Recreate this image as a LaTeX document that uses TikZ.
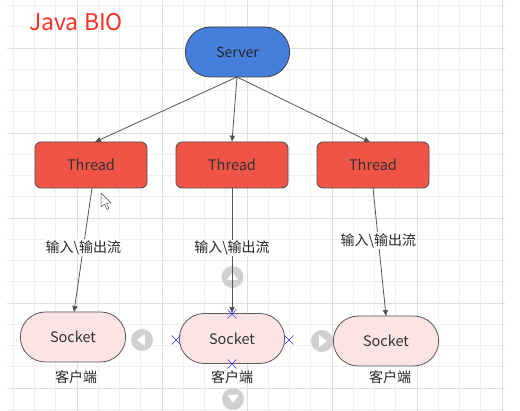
\documentclass[tikz,border=0pt]{standalone}
\usepackage{fontspec}
\setmainfont{Noto Sans CJK SC}
\usetikzlibrary{arrows.meta,shapes.misc}
\definecolor{serverblue}{RGB}{70,126,220}
\definecolor{threadred}{RGB}{240,84,70}
\definecolor{socketpink}{RGB}{253,228,228}
\definecolor{edgegray}{RGB}{85,85,85}
\definecolor{gridminor}{RGB}{240,240,240}
\definecolor{gridmajor}{RGB}{222,222,222}
\definecolor{navgray}{RGB}{208,208,208}
\definecolor{titlered}{RGB}{250,50,40}
\tikzset{
  serverbox/.style={rounded rectangle, draw=black!75, line width=0.8pt, fill=serverblue, minimum width=111pt, minimum height=50pt, font=\fontsize{14pt}{16pt}\selectfont, text=black!85},
  threadbox/.style={rectangle, rounded corners=6pt, draw=black!70, line width=0.8pt, fill=threadred, minimum width=112pt, minimum height=46pt, font=\fontsize{14.5pt}{16pt}\selectfont, text=black!80},
  socketbox/.style={rounded rectangle, draw=black!65, line width=0.8pt, fill=socketpink, minimum width=112pt, minimum height=50pt, font=\fontsize{14.5pt}{16pt}\selectfont, text=black!80},
  conn/.style={draw=edgegray, line width=0.8pt, -{Triangle[length=6pt,width=5pt]}},
  flowlabel/.style={fill=white, inner sep=1pt, font=\fontsize{14pt}{16pt}\selectfont, text=black!85},
  clientlabel/.style={inner sep=1pt, font=\fontsize{14pt}{16pt}\selectfont, text=black!85},
  navcircle/.style={circle, fill=navgray, minimum size=22pt, inner sep=0pt},
  xmark/.style={draw=blue!80, line width=0.6pt}
}
\begin{document}
\begin{tikzpicture}[x=1pt,y=-1pt]
\fill[white] (0,0) rectangle (520,411);
\useasboundingbox (0,0) rectangle (520,411);
% grid
\foreach \i in {-3,...,20} {
  \pgfmathsetmacro{\gx}{77+21.25*\i}
  \ifdim\gx pt>7pt \ifdim\gx pt<506pt
    \draw[gridminor, line width=0.6pt] (\gx,0) -- (\gx,411);
  \fi\fi
}
\foreach \i in {-2,...,17} {
  \pgfmathsetmacro{\gy}{48+21.25*\i}
  \ifdim\gy pt>0pt \ifdim\gy pt<411pt
    \draw[gridminor, line width=0.6pt] (7,\gy) -- (505,\gy);
  \fi\fi
}
\foreach \gx in {77,162,247,332,417,502}
  \draw[gridmajor, line width=0.7pt] (\gx,0) -- (\gx,411);
\foreach \gy in {48,133,218,303,388}
  \draw[gridmajor, line width=0.7pt] (7,\gy) -- (505,\gy);

\node[text=titlered, font=\fontsize{23pt}{26pt}\selectfont, anchor=west, inner sep=0pt] (title) at (29,22) {Java BIO};

% hover navigation controls (behind connectors)
\node[navcircle] (navtop) at (232.5,277) {};
\fill[white] (227,280) -- (238,280) -- (232.5,272) -- cycle;
\node[navcircle] (navleft) at (142,340) {};
\fill[white] (145,334) -- (145,346) -- (137,340) -- cycle;
\node[navcircle] (navright) at (322,341) {};
\fill[white] (319,335) -- (319,347) -- (327,341) -- cycle;
\node[navcircle] (navbottom) at (233,399) {};
\fill[white] (227.5,395) -- (238.5,395) -- (233,403) -- cycle;

\node[serverbox] (server) at (237.5,52) {Server};
\node[threadbox] (t1) at (91,165) {Thread};
\node[threadbox] (t2) at (232,165) {Thread};
\node[threadbox] (t3) at (373,165) {Thread};
\node[socketbox] (s1) at (73,337) {Socket};
\node[socketbox] (s2) at (232,338.5) {Socket};
\node[socketbox] (s3) at (386,341) {Socket};

\coordinate (sv) at (237,77);
\coordinate (t1top) at (95,142);
\coordinate (t3top) at (370,142);
\draw[conn] (sv) -- (t1top);
\draw[conn] (sv) -- (t2.north);
\draw[conn] (sv) -- (t3top);

\coordinate (t1b) at (92,188);
\coordinate (s1t) at (74,312);
\coordinate (t3b) at (373,188);
\coordinate (s3t) at (386,316);
\draw[conn] (t1b) -- (s1t) node[flowlabel, pos=0.48] (l1) {输入\textbackslash 输出流};
\draw[conn] (t2.south) -- (s2.north) node[flowlabel, pos=0.48] (l2) {输入\textbackslash 输出流};
\draw[conn] (t3b) -- (s3t) node[flowlabel, pos=0.41] (l3) {输入\textbackslash 输出流};

\node[clientlabel] (c1) at (76,377) {客户端};
\node[clientlabel] (c2) at (232,377) {客户端};
\node[clientlabel] (c3) at (390,377) {客户端};

% blue x marks
\foreach \cx/\cy in {232/314, 176/340, 289/340, 232/364} {
  \draw[xmark] (\cx-4.5,\cy-4.5) -- (\cx+4.5,\cy+4.5);
  \draw[xmark] (\cx-4.5,\cy+4.5) -- (\cx+4.5,\cy-4.5);
}

% mouse cursor
\draw[fill=white, draw=black!70, line width=0.5pt, line join=round]
  (101,193) -- (101,207) -- (104.5,204) -- (107,209.5) -- (109,208.5) -- (106.5,203.2) -- (111,203) -- cycle;
\end{tikzpicture}
\end{document}
